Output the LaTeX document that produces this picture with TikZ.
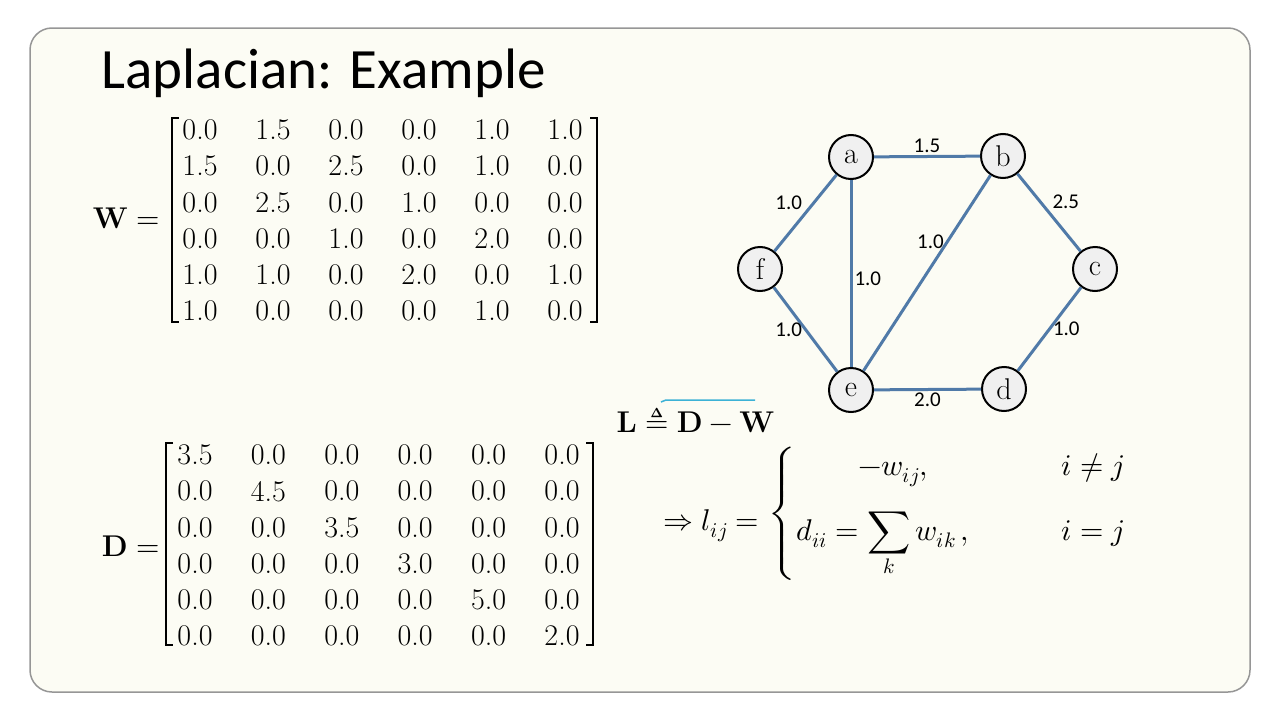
\documentclass[tikz,border=0pt]{standalone}
\usepackage{fontspec}
\usepackage{unicode-math}
\setmathfont{Latin Modern Math}
\newfontfamily\titlefont{Carlito}
\usetikzlibrary{positioning}
\definecolor{slidebg}{RGB}{252,252,244}
\definecolor{slideframe}{RGB}{150,150,150}
\definecolor{edgecol}{RGB}{80,122,168}
\definecolor{vertexfill}{RGB}{240,240,240}
\definecolor{markcol}{RGB}{60,178,214}
\newcommand\mfont{\fontsize{30}{36}\selectfont}
\tikzstyle{vertex}=[circle,draw,line width=2,fill=vertexfill,minimum size=44,inner sep=0,font=\mfont]
\tikzstyle{edge}=[line width=3,edgecol]
\tikzstyle{weight}=[text=black,font=\titlefont\fontsize{21}{25}\selectfont,inner sep=2]
\tikzstyle{entry}=[font=\mfont,inner sep=0]
\tikzstyle{bracket}=[line width=2]

\begin{document}
\begin{tikzpicture}[x=1pt,y=-1pt]
  \useasboundingbox (0,0) rectangle (1280,720);
  \draw[slideframe,fill=slidebg,line width=1.5,rounded corners=22] (30,28) rectangle (1250,692);

  % TITLE
  \node[anchor=base west,font=\titlefont\fontsize{57}{68}\selectfont] (title) at (98,88) {Laplacian: Example};

  % WEIGHT MATRIX
  \node[anchor=east,font=\mfont] (Wlab) at (163,218) {$\mathbf{W} =$};
  \foreach \row [count=\ri] in {{0.0,1.5,0.0,0.0,1.0,1.0},{1.5,0.0,2.5,0.0,1.0,0.0},{0.0,2.5,0.0,1.0,0.0,0.0},
                                {0.0,0.0,1.0,0.0,2.0,0.0},{1.0,1.0,0.0,2.0,0.0,1.0},{1.0,0.0,0.0,0.0,1.0,0.0}}
    \foreach \v [count=\ci] in \row
      \node[entry] (w\ri\ci) at ({200+73*(\ci-1)},{130+36.2*(\ri-1)}) {\v};
  \draw[bracket] (179,118) -- (172,118) -- (172,322) -- (179,322);
  \draw[bracket] (590,118) -- (597,118) -- (597,322) -- (590,322);

  % DEGREE MATRIX
  \node[anchor=east,font=\mfont] (Dlab) at (163,546) {$\mathbf{D} =$};
  \foreach \row [count=\ri] in {{3.5,0.0,0.0,0.0,0.0,0.0},{0.0,4.5,0.0,0.0,0.0,0.0},{0.0,0.0,3.5,0.0,0.0,0.0},
                                {0.0,0.0,0.0,3.0,0.0,0.0},{0.0,0.0,0.0,0.0,5.0,0.0},{0.0,0.0,0.0,0.0,0.0,2.0}}
    \foreach \v [count=\ci] in \row
      \node[entry] (d\ri\ci) at ({195+73.4*(\ci-1)},{455+36.2*(\ri-1)}) {\v};
  \draw[bracket] (173,443) -- (166,443) -- (166,645) -- (173,645);
  \draw[bracket] (586,443) -- (593,443) -- (593,645) -- (586,645);

  % GRAPH
  \node[vertex] (a) at (851,157) {a};
  \node[vertex] (b) at (1003,156) {b};
  \node[vertex] (c) at (1095,269) {c};
  \node[vertex] (d) at (1004,389) {d};
  \node[vertex] (e) at (851,390) {e};
  \node[vertex] (f) at (760,269) {f};
  \draw[edge] (a) -- node[weight,above] {1.5} (b);
  \draw[edge] (b) -- node[weight,above right] {2.5} (c);
  \draw[edge] (c) -- node[weight,right] {1.0} (d);
  \draw[edge] (e) -- node[weight,below] {2.0} (d);
  \draw[edge] (f) -- node[weight,above left] {1.0} (a);
  \draw[edge] (f) -- node[weight,left] {1.0} (e);
  \draw[edge] (a) -- node[weight,right,pos=0.53] {1.0} (e);
  \draw[edge] (e) -- node[weight,left,pos=0.66] {1.0} (b);

  % LAPLACIAN
  \draw[markcol,line width=1.5] (661,402) -- (666,400) -- (755,400);
  \node[anchor=base west,font=\mfont] (Ldef) at (613,432) {$\mathbf{L} \triangleq \mathbf{D} - \mathbf{W}$};
  \node[anchor=base west,font=\mfont] (lij) at (660,530) {$\Rightarrow l_{ij} =$};
  \node[font=\mfont,inner sep=0] (brace) at (783,515) {$\left\{\rule[-62pt]{0pt}{124pt}\right.$};
  \node[anchor=base,font=\mfont] (offd) at (893,475) {$-w_{ij},$};
  \node[anchor=base west,font=\mfont] (diag) at (793,540) {$\displaystyle d_{ii} = \sum_k w_{ik}\,,$};
  \node[anchor=base west,font=\mfont] (neq) at (1058,475) {$i \neq j$};
  \node[anchor=base west,font=\mfont] (eq) at (1058,540) {$i = j$};
\end{tikzpicture}
\end{document}
